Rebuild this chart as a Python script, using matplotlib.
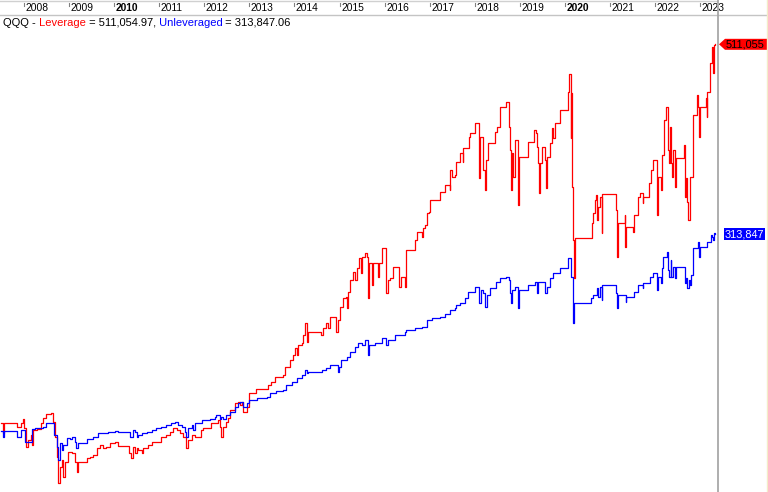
import matplotlib
matplotlib.use("Agg")
import matplotlib.pyplot as plt
import matplotlib.transforms as mtransforms
from matplotlib.lines import Line2D
from matplotlib.patches import Polygon

plt.rcParams["font.family"] = ["Liberation Sans", "DejaVu Sans"]

# equity curves (decimal year, account value)
lev_dates = [
    2007.49, 2007.53, 2007.56, 2007.84, 2007.93, 2007.97, 2008.00, 2008.04, 2008.10, 2008.15,
    2008.17, 2008.21, 2008.28, 2008.37, 2008.43, 2008.48, 2008.61, 2008.65, 2008.69, 2008.73,
    2008.76, 2008.80, 2008.84, 2008.87, 2008.91, 2008.98, 2009.06, 2009.13, 2009.17, 2009.20,
    2009.40, 2009.46, 2009.54, 2009.61, 2009.69, 2009.76, 2009.83, 2009.91, 2010.02, 2010.09,
    2010.32, 2010.37, 2010.41, 2010.46, 2010.50, 2010.53, 2010.61, 2010.65, 2010.76, 2010.83,
    2011.05, 2011.16, 2011.24, 2011.31, 2011.39, 2011.46, 2011.53, 2011.59, 2011.64, 2011.72,
    2011.79, 2011.92, 2011.98, 2012.16, 2012.31, 2012.35, 2012.38, 2012.42, 2012.48, 2012.53,
    2012.57, 2012.68, 2012.75, 2012.79, 2012.83, 2012.86, 2012.94, 2013.00, 2013.14, 2013.42,
    2013.49, 2013.57, 2013.75, 2013.79, 2013.90, 2013.97, 2014.01, 2014.05, 2014.08, 2014.16,
    2014.19, 2014.23, 2014.27, 2014.30, 2014.59, 2014.64, 2014.71, 2014.75, 2014.78, 2014.93,
    2014.96, 2015.01, 2015.07, 2015.14, 2015.17, 2015.19, 2015.23, 2015.30, 2015.34, 2015.38,
    2015.43, 2015.47, 2015.49, 2015.56, 2015.61, 2015.63, 2015.66, 2015.73, 2015.75, 2015.86,
    2015.88, 2015.95, 2016.03, 2016.04, 2016.08, 2016.12, 2016.19, 2016.32, 2016.37, 2016.45,
    2016.47, 2016.67, 2016.71, 2016.82, 2016.84, 2016.89, 2016.93, 2016.99, 2017.00, 2017.22,
    2017.33, 2017.45, 2017.46, 2017.49, 2017.56, 2017.59, 2017.67, 2017.73, 2017.74, 2017.87,
    2017.90, 2018.00, 2018.09, 2018.11, 2018.18, 2018.22, 2018.24, 2018.29, 2018.44, 2018.49,
    2018.55, 2018.69, 2018.76, 2018.78, 2018.80, 2018.83, 2018.85, 2018.89, 2018.96, 2018.98,
    2019.18, 2019.31, 2019.35, 2019.37, 2019.40, 2019.42, 2019.44, 2019.48, 2019.55, 2019.57,
    2019.61, 2019.66, 2019.70, 2019.74, 2019.77, 2019.88, 2020.07, 2020.09, 2020.13, 2020.14,
    2020.16, 2020.18, 2020.20, 2020.22, 2020.59, 2020.62, 2020.66, 2020.68, 2020.71, 2020.73,
    2020.77, 2020.81, 2020.83, 2021.13, 2021.16, 2021.18, 2021.33, 2021.34, 2021.36, 2021.51,
    2021.53, 2021.62, 2021.67, 2021.72, 2021.73, 2021.87, 2021.90, 2021.95, 2022.03, 2022.05,
    2022.07, 2022.12, 2022.14, 2022.19, 2022.24, 2022.25, 2022.29, 2022.30, 2022.32, 2022.35,
    2022.38, 2022.40, 2022.43, 2022.46, 2022.63, 2022.66, 2022.68, 2022.71, 2022.73, 2022.77,
    2022.83, 2022.92, 2022.93, 2022.95, 2022.97, 2023.00, 2023.12, 2023.14, 2023.15, 2023.21,
    2023.27, 2023.29, 2023.31, 2023.32,
]
lev_values = [
    117800, 107400, 117500, 113900, 118100, 121600, 112300, 93200, 100100, 105300,
    94900, 110500, 111200, 117500, 122700, 126800, 127900, 119100, 103600, 82800,
    55200, 72400, 79400, 62000, 77600, 88000, 86300, 77600, 67200, 77600,
    81100, 82800, 84500, 91500, 94900, 91500, 93200, 96700, 98400, 94200,
    86600, 81100, 93200, 86300, 91500, 89700, 86300, 91500, 94900, 98400,
    103600, 105300, 108700, 112300, 110500, 107100, 103600, 91500, 100100, 105300,
    103600, 110500, 112300, 117500, 120900, 113900, 103600, 113900, 119100, 122700,
    131300, 138200, 139900, 136500, 139900, 129500, 134700, 148600, 152800, 157200,
    160700, 165900, 167600, 176200, 183200, 188400, 195400, 188400, 198800, 200500,
    209200, 221300, 202200, 212600, 209200, 216100, 221300, 216100, 228200, 212600,
    224700, 238600, 247300, 248900, 236900, 254100, 266300, 274900, 266300, 278400,
    288800, 273200, 290500, 294000, 290500, 247300, 283600, 261100, 283600, 269700,
    283600, 299200, 276700, 252500, 266300, 268000, 280100, 259300, 269700, 259300,
    297400, 307800, 316400, 311300, 320000, 323400, 335600, 337200, 349400, 358000,
    364900, 359700, 380500, 373600, 375300, 389100, 398500, 389100, 403100, 415100,
    418600, 429000, 371900, 415100, 380500, 359700, 390900, 408200, 420300, 425500,
    446300, 451400, 425500, 401300, 359700, 398200, 373600, 411700, 344200, 394300,
    409900, 422100, 418900, 404700, 387500, 356300, 387500, 404700, 390900, 361500,
    394300, 408200, 423800, 413400, 429000, 442800, 461800, 480200, 413400, 460200,
    363200, 307800, 268000, 309600, 325200, 335600, 349400, 354600, 328600, 342400,
    352800, 314800, 355600, 339000, 290500, 325200, 333800, 300900, 321600, 316400,
    333800, 352800, 356300, 345900, 352800, 366700, 380500, 390900, 380500, 333800,
    373600, 359700, 396100, 432400, 434200, 446300, 401300, 387500, 425500, 387500,
    373600, 401300, 363200, 392700, 406500, 352800, 371900, 347600, 328600, 373600,
    437600, 439400, 458400, 446300, 415100, 446300, 455000, 435900, 461800, 491300,
    508600, 480900, 510300, 511054.97,
]

unlev_dates = [
    2007.49, 2007.53, 2007.56, 2007.85, 2007.93, 2008.02, 2008.17, 2008.24, 2008.43, 2008.50,
    2008.67, 2008.73, 2008.76, 2008.80, 2008.84, 2008.87, 2008.95, 2009.02, 2009.06, 2009.13,
    2009.15, 2009.20, 2009.39, 2009.54, 2009.65, 2009.87, 2010.02, 2010.09, 2010.35, 2010.41,
    2010.46, 2010.50, 2010.53, 2010.61, 2010.72, 2010.83, 2010.94, 2011.05, 2011.16, 2011.27,
    2011.35, 2011.42, 2011.50, 2011.57, 2011.59, 2011.64, 2011.72, 2011.75, 2011.79, 2011.94,
    2012.12, 2012.24, 2012.27, 2012.35, 2012.38, 2012.42, 2012.49, 2012.57, 2012.68, 2012.75,
    2012.79, 2012.86, 2012.94, 2013.00, 2013.16, 2013.38, 2013.45, 2013.60, 2013.75, 2013.82,
    2013.94, 2014.05, 2014.16, 2014.23, 2014.27, 2014.30, 2014.60, 2014.71, 2014.78, 2014.96,
    2014.99, 2015.04, 2015.16, 2015.23, 2015.34, 2015.41, 2015.49, 2015.56, 2015.63, 2015.66,
    2015.78, 2015.95, 2016.04, 2016.07, 2016.23, 2016.45, 2016.47, 2016.67, 2016.82, 2016.93,
    2017.04, 2017.22, 2017.33, 2017.45, 2017.56, 2017.59, 2017.67, 2017.78, 2017.85, 2018.00,
    2018.10, 2018.13, 2018.18, 2018.22, 2018.26, 2018.33, 2018.48, 2018.55, 2018.70, 2018.76,
    2018.78, 2018.80, 2018.83, 2018.89, 2018.96, 2018.98, 2019.18, 2019.33, 2019.37, 2019.40,
    2019.55, 2019.59, 2019.66, 2019.74, 2019.88, 2020.07, 2020.14, 2020.17, 2020.18, 2020.20,
    2020.57, 2020.62, 2020.70, 2020.73, 2020.77, 2020.81, 2020.83, 2021.13, 2021.16, 2021.18,
    2021.35, 2021.36, 2021.53, 2021.62, 2021.72, 2021.73, 2021.88, 2021.95, 2022.04, 2022.07,
    2022.12, 2022.15, 2022.18, 2022.26, 2022.29, 2022.31, 2022.34, 2022.36, 2022.40, 2022.43,
    2022.46, 2022.66, 2022.68, 2022.71, 2022.74, 2022.77, 2022.80, 2022.83, 2022.94, 2022.96,
    2022.99, 2023.14, 2023.23, 2023.27, 2023.28, 2023.31, 2023.32,
]
unlev_values = [
    109500, 103200, 109800, 103600, 110500, 98400, 111500, 112300, 113900, 117500,
    105300, 93200, 79400, 96700, 89700, 94900, 101900, 100900, 103600, 98400,
    91500, 96700, 101200, 103600, 107100, 108700, 109800, 108700, 103600, 110500,
    108700, 103600, 105300, 107100, 108700, 110500, 112300, 113900, 115700, 117500,
    119100, 115700, 113900, 108700, 103600, 112300, 115700, 110500, 117500, 120900,
    121600, 124300, 126100, 121600, 124300, 121600, 126100, 129500, 134700, 138200,
    139900, 134700, 138200, 141700, 143400, 145100, 148600, 151300, 152000, 157200,
    160700, 164200, 167600, 172800, 169400, 171100, 172800, 174600, 178000, 171100,
    176200, 183200, 186600, 191800, 197000, 200500, 198800, 204000, 188400, 198800,
    200500, 206100, 198800, 204000, 209200, 212600, 214400, 216100, 217800, 224700,
    226500, 228200, 231000, 235100, 236900, 240300, 242100, 247300, 254100, 259300,
    242100, 255900, 252500, 238600, 250700, 257700, 264500, 268000, 269700, 266300,
    252500, 242100, 255900, 259300, 236900, 255900, 261100, 264500, 252500, 264500,
    252500, 259300, 268000, 273200, 278400, 288800, 269700, 252500, 221300, 242100,
    247300, 250700, 257700, 248900, 259300, 245500, 261100, 252500, 236900, 250700,
    243700, 248900, 254100, 261100, 257700, 262900, 269700, 273200, 255900, 269700,
    262900, 278400, 290500, 295700, 276700, 269700, 287100, 269700, 280100, 268000,
    280100, 262900, 268000, 257700, 266300, 261100, 271500, 299200, 306100, 290500,
    300900, 306100, 313000, 311300, 307800, 314800, 313847.06,
]

year_ticks = list(range(2008, 2024))
bold_years = [2010, 2020]

RED = "#ff0000"
BLUE = "#0000ff"
W, H = 768, 492
PLOT_RIGHT = 717   # px, gray separator before the value labels
PLOT_TOP = 15      # px, line under the date strip

fig = plt.figure(figsize=(W / 100, H / 100), dpi=100)
fig.patch.set_facecolor("white")
ax = fig.add_axes([0, 0, PLOT_RIGHT / W, (H - PLOT_TOP) / H])
ax.set_facecolor("white")

ax.plot(lev_dates, lev_values, color=RED, lw=0.9, drawstyle="steps-post")
ax.plot(unlev_dates, unlev_values, color=BLUE, lw=0.9, drawstyle="steps-post")

ax.set_xlim(2007.47, 2023.37)
ax.set_ylim(46100, 541500)
ax.set_xticks([])
ax.set_yticks([])
for s in ax.spines.values():
    s.set_visible(False)

ident = mtransforms.IdentityTransform()


def px(x, y):
    # pixel position measured from the top-left corner -> display coords
    return x, H - y


# frame lines
fig.add_artist(Line2D([0, W], [H - PLOT_TOP, H - PLOT_TOP], color="#c4c4c4", lw=1.0, transform=ident))
fig.add_artist(Line2D([0, PLOT_RIGHT], [H - 0.5, H - 0.5], color="#d0d0d0", lw=1.0, transform=ident))
fig.add_artist(Line2D([PLOT_RIGHT + 0.5, PLOT_RIGHT + 0.5], [0, H], color="#a8a8a8", lw=1.3, transform=ident))
fig.add_artist(Line2D([W - 1, W - 1], [0, H], color="#f3ecc8", lw=1.0, transform=ident))

# year labels in the top strip
tick_tr = mtransforms.blended_transform_factory(ax.transData, ident)
for yr in year_ticks:
    ax.add_line(Line2D([yr, yr], [H - 2.5, H - 6], color="#808080", lw=0.8,
                       transform=tick_tr, clip_on=False))
    lbl = mtransforms.offset_copy(tick_tr, fig=fig, x=1.5, y=0, units="dots")
    ax.text(yr, H - 8, str(yr), transform=lbl, ha="left", va="center",
            fontsize=7.4, color="black", clip_on=False,
            fontweight="bold" if yr in bold_years else "normal")

# multi-coloured heading
renderer = fig.canvas.get_renderer()
parts = [
    ("QQQ -", "black"),
    (" Leverage", RED),
    (f" = {lev_values[-1]:,.2f},", "black"),
    (" Unleveraged", BLUE),
    (f" = {unlev_values[-1]:,.2f}", "black"),
]
x0, y0 = px(3, 22.5)
for txt, col in parts:
    t = fig.text(x0, y0, txt, transform=ident, color=col, fontsize=8, ha="left", va="center")
    x0 = t.get_window_extent(renderer).x1

# last-value tags on the right
_, y_red = ax.transData.transform((lev_dates[-1], lev_values[-1]))
_, y_blue = ax.transData.transform((unlev_dates[-1], unlev_values[-1]))

fig.add_artist(Polygon([(PLOT_RIGHT + 2, y_red), (PLOT_RIGHT + 8, y_red + 5.5),
                        (W - 1, y_red + 5.5), (W - 1, y_red - 5.5),
                        (PLOT_RIGHT + 8, y_red - 5.5)],
                       closed=True, facecolor=RED, edgecolor="none", transform=ident))
fig.text(745.5, y_red, f"{lev_values[-1]:,.0f}", transform=ident, color="black",
         fontsize=7.8, ha="center", va="center")

fig.add_artist(Polygon([(724, y_blue + 6), (765, y_blue + 6), (765, y_blue - 6), (724, y_blue - 6)],
                       closed=True, facecolor=BLUE, edgecolor="none", transform=ident))
fig.text(744.5, y_blue, f"{unlev_values[-1]:,.0f}", transform=ident, color="white",
         fontsize=7.8, ha="center", va="center")

fig.savefig("out.png", dpi=100, facecolor="white")
